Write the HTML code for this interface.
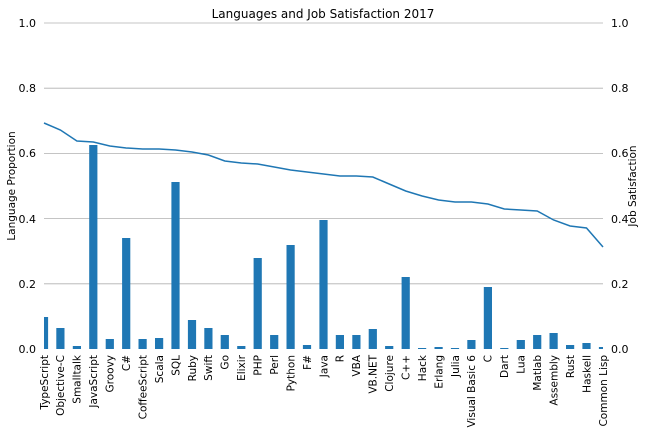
<!DOCTYPE html>
<html><head><meta charset="utf-8"><style>
body{margin:0;background:#fff}
text{font-family:"DejaVu Sans","Liberation Sans",sans-serif;fill:#000}
</style></head><body>
<svg width="646" height="433" viewBox="0 0 646 433" xmlns="http://www.w3.org/2000/svg">
<rect width="646" height="433" fill="#fff"/>
<g stroke="#b0b0b0" stroke-width="0.8">
<line x1="44" x2="603" y1="23" y2="23"/>
<line x1="44" x2="603" y1="88.2" y2="88.2"/>
<line x1="44" x2="603" y1="153.4" y2="153.4"/>
<line x1="44" x2="603" y1="218.6" y2="218.6"/>
<line x1="44" x2="603" y1="283.8" y2="283.8"/>
</g>
<g fill="#1f77b4">
<rect x="44" y="317" width="4.1" height="32"/>
<rect x="56.3" y="328" width="8.2" height="21"/>
<rect x="72.8" y="346" width="8.2" height="3"/>
<rect x="89.2" y="145" width="8.2" height="204"/>
<rect x="105.7" y="339" width="8.2" height="10"/>
<rect x="122.1" y="238" width="8.2" height="111"/>
<rect x="138.5" y="339" width="8.2" height="10"/>
<rect x="155" y="338" width="8.2" height="11"/>
<rect x="171.4" y="182" width="8.2" height="167"/>
<rect x="187.9" y="320" width="8.2" height="29"/>
<rect x="204.3" y="328" width="8.2" height="21"/>
<rect x="220.7" y="335" width="8.2" height="14"/>
<rect x="237.2" y="346" width="8.2" height="3"/>
<rect x="253.6" y="258" width="8.2" height="91"/>
<rect x="270.1" y="335" width="8.2" height="14"/>
<rect x="286.5" y="245" width="8.2" height="104"/>
<rect x="302.9" y="345" width="8.2" height="4"/>
<rect x="319.4" y="220" width="8.2" height="129"/>
<rect x="335.8" y="335" width="8.2" height="14"/>
<rect x="352.3" y="335" width="8.2" height="14"/>
<rect x="368.7" y="329" width="8.2" height="20"/>
<rect x="385.1" y="346" width="8.2" height="3"/>
<rect x="401.6" y="277" width="8.2" height="72"/>
<rect x="418" y="348" width="8.2" height="1"/>
<rect x="434.5" y="347" width="8.2" height="2"/>
<rect x="450.9" y="348" width="8.2" height="1"/>
<rect x="467.3" y="340" width="8.2" height="9"/>
<rect x="483.8" y="287" width="8.2" height="62"/>
<rect x="500.2" y="348" width="8.2" height="1"/>
<rect x="516.7" y="340" width="8.2" height="9"/>
<rect x="533.1" y="335" width="8.2" height="14"/>
<rect x="549.5" y="333" width="8.2" height="16"/>
<rect x="566" y="345" width="8.2" height="4"/>
<rect x="582.4" y="343" width="8.2" height="6"/>
<rect x="598.9" y="347" width="4.1" height="2"/>
</g>
<polyline fill="none" stroke="#1f77b4" stroke-width="1.5" points="44,123 60.4,130 76.9,141 93.3,142 109.8,146 126.2,148 142.6,149 159.1,149 175.5,150 192,152 208.4,155 224.8,161 241.3,163 257.7,164 274.2,167 290.6,170 307,172 323.5,174 339.9,176 356.4,176 372.8,177 389.2,184 405.7,191 422.1,196 438.6,200 455,202 471.4,202 487.9,204 504.3,209 520.8,210 537.2,211 553.6,220 570.1,226 586.5,228 603,247"/>
<g font-size="11" text-anchor="end">
<text x="36" y="27">1.0</text><text x="36" y="92">0.8</text><text x="36" y="157">0.6</text><text x="36" y="223">0.4</text><text x="36" y="288">0.2</text><text x="36" y="353">0.0</text>
</g>
<g font-size="11">
<text x="611" y="27">1.0</text><text x="611" y="92">0.8</text><text x="611" y="157">0.6</text><text x="611" y="223">0.4</text><text x="611" y="288">0.2</text><text x="611" y="353">0.0</text>
</g>
<text x="323" y="18" font-size="12" text-anchor="middle">Languages and Job Satisfaction 2017</text>
<text transform="translate(15,186) rotate(-90)" font-size="10.5" text-anchor="middle">Language Proportion</text>
<text transform="translate(636,186) rotate(-90)" font-size="10.5" text-anchor="middle">Job Satisfaction</text>
<g font-size="10.5" text-anchor="end">
<text transform="translate(47.8,355) rotate(-90)">TypeScript</text>
<text transform="translate(64.2,355) rotate(-90)">Objective-C</text>
<text transform="translate(80.7,355) rotate(-90)">Smalltalk</text>
<text transform="translate(97.1,355) rotate(-90)">JavaScript</text>
<text transform="translate(113.6,355) rotate(-90)">Groovy</text>
<text transform="translate(130,355) rotate(-90)">C#</text>
<text transform="translate(146.4,355) rotate(-90)">CoffeeScript</text>
<text transform="translate(162.9,355) rotate(-90)">Scala</text>
<text transform="translate(179.3,355) rotate(-90)">SQL</text>
<text transform="translate(195.8,355) rotate(-90)">Ruby</text>
<text transform="translate(212.2,355) rotate(-90)">Swift</text>
<text transform="translate(228.6,355) rotate(-90)">Go</text>
<text transform="translate(245.1,355) rotate(-90)">Elixir</text>
<text transform="translate(261.5,355) rotate(-90)">PHP</text>
<text transform="translate(278,355) rotate(-90)">Perl</text>
<text transform="translate(294.4,355) rotate(-90)">Python</text>
<text transform="translate(310.8,355) rotate(-90)">F#</text>
<text transform="translate(327.3,355) rotate(-90)">Java</text>
<text transform="translate(343.7,355) rotate(-90)">R</text>
<text transform="translate(360.2,355) rotate(-90)">VBA</text>
<text transform="translate(376.6,355) rotate(-90)">VB.NET</text>
<text transform="translate(393,355) rotate(-90)">Clojure</text>
<text transform="translate(409.5,355) rotate(-90)">C++</text>
<text transform="translate(425.9,355) rotate(-90)">Hack</text>
<text transform="translate(442.4,355) rotate(-90)">Erlang</text>
<text transform="translate(458.8,355) rotate(-90)">Julia</text>
<text transform="translate(475.2,355) rotate(-90)">Visual Basic 6</text>
<text transform="translate(491.7,355) rotate(-90)">C</text>
<text transform="translate(508.1,355) rotate(-90)">Dart</text>
<text transform="translate(524.6,355) rotate(-90)">Lua</text>
<text transform="translate(541,355) rotate(-90)">Matlab</text>
<text transform="translate(557.4,355) rotate(-90)">Assembly</text>
<text transform="translate(573.9,355) rotate(-90)">Rust</text>
<text transform="translate(590.3,355) rotate(-90)">Haskell</text>
<text transform="translate(606.8,355) rotate(-90)">Common Lisp</text>
</g>
</svg>
</body></html>
